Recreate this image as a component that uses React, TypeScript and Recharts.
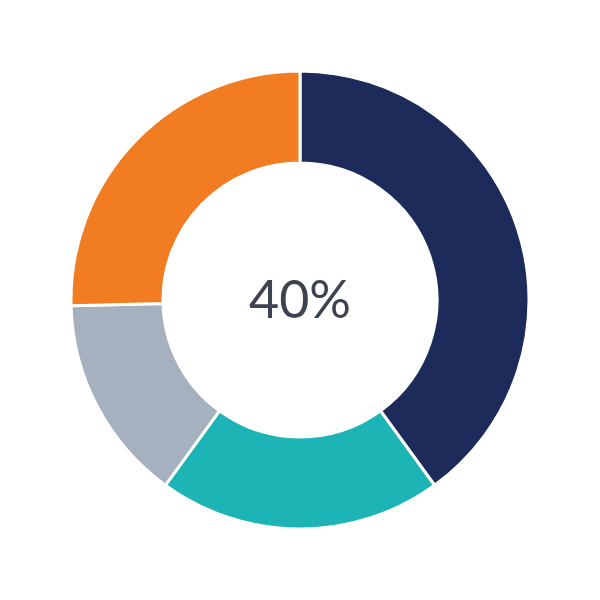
import { PieChart, Pie, Cell } from "recharts";

const labels = ["Navy", "Teal", "Grey", "Orange"];
const values = [40, 20, 14.6, 25.4];
const colors = ["#1c2b5a", "#1db4b6", "#a6b1c0", "#f27c21"];
const centerText = "40%";

const data = labels.map((name, i) => ({ name, value: values[i] }));

export default function App() {
  return (
    <div style={{ position: "fixed", left: 0, top: 0, width: 600, height: 600, background: "#fff" }}>
      <PieChart width={600} height={600} margin={{ top: 0, right: 0, bottom: 0, left: 0 }}>
        <Pie
          data={data}
          dataKey="value"
          cx="50%"
          cy="50%"
          innerRadius={137}
          outerRadius={229}
          startAngle={90}
          endAngle={-270}
          stroke="#ffffff"
          strokeWidth={3}
          isAnimationActive={false}
        >
          {data.map((d, i) => (
            <Cell key={d.name} fill={colors[i]} />
          ))}
        </Pie>
        <text
          x={300}
          y={298}
          textAnchor="middle"
          dominantBaseline="central"
          fontFamily="Lato, sans-serif"
          fontWeight={400}
          fontSize={52}
          fill="#3d4350"
        >
          {centerText}
        </text>
      </PieChart>
    </div>
  );
}
